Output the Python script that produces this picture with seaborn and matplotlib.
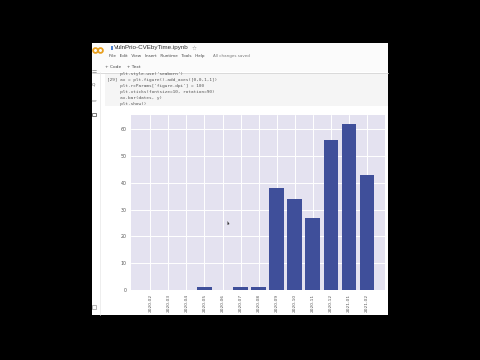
import matplotlib
matplotlib.use("Agg")
import matplotlib.pyplot as plt
from matplotlib.patches import Rectangle, Circle, Polygon
import pandas as pd
import seaborn as sns

months = ["2020-02", "2020-03", "2020-04", "2020-05", "2020-06", "2020-07", "2020-08",
          "2020-09", "2020-10", "2020-11", "2020-12", "2021-01", "2021-02"]
counts = [0, 0, 0, 1, 0, 1, 1, 38, 34, 27, 56, 62, 43]
yticks = [0, 10, 20, 30, 40, 50, 60]
code_lines = ["     plt.style.use('seaborn')",
              "[29] ax = plt.figure().add_axes([0,0,1,1])",
              "     plt.rcParams['figure.dpi'] = 100",
              "     plt.xticks(fontsize=10, rotation=90)",
              "     ax.bar(dates, y)",
              "     plt.show()"]

sns.set_theme(style="darkgrid")
plt.rcParams['font.family'] = ['DejaVu Sans']
fig = plt.figure(figsize=(4.8, 3.6), dpi=100, facecolor="black")

# page behind everything, in pixel coordinates
bg = fig.add_axes([0, 0, 1, 1], zorder=0)
bg.set_xlim(0, 480)
bg.set_ylim(360, 0)
bg.axis("off")
bg.add_patch(Rectangle((92, 43), 296, 272, fc="white", ec="none"))
bg.add_patch(Rectangle((92, 43), 296, 29, fc="#fbfbfb", ec="none"))
bg.add_patch(Rectangle((105, 73), 283, 33, fc="#f5f5f5", ec="none"))
bg.plot([92, 388], [72.5, 72.5], color="#d5d5d5", lw=0.6)
bg.plot([99.5, 99.5], [72, 315], color="#e8e8e8", lw=0.5)
bg.add_patch(Circle((95.5, 50.5), 2.4, fc="none", ec="#e8a020", lw=1.3))
bg.add_patch(Circle((100.5, 50.5), 2.4, fc="none", ec="#e8a020", lw=1.3))
bg.add_patch(Rectangle((110.5, 46), 2.5, 3.5, fc="#4a7fd0", ec="none"))
bg.text(114, 48, "VulnPrio-CVEbyTime.ipynb", fontsize=4.5, color="#333333", va="center", family="Liberation Sans")
bg.text(194, 48, "☆", fontsize=4, color="#888888", va="center", ha="center")
bg.text(109, 56.5, "File   Edit   View   Insert   Runtime   Tools   Help", fontsize=3.0, color="#444444", va="center")
bg.text(213, 56.5, "All changes saved", fontsize=2.9, color="#777777", va="center")
bg.text(105, 67, "+ Code    + Text", fontsize=3.2, color="#444444", va="center")
for i, line in enumerate(code_lines):
    bg.text(107, 73.5 + i * 6, line, fontsize=3.15, color="#555555", va="center", family="DejaVu Sans Mono")
# sidebar icons
bg.plot([92, 96], [70, 70], color="#666666", lw=0.4)
bg.plot([92, 96], [71.5, 71.5], color="#666666", lw=0.4)
bg.text(93.5, 84, "Q", fontsize=3.2, color="#555555", va="center", ha="center")
bg.text(94, 100, "<>", fontsize=3, color="#555555", va="center", ha="center")
bg.add_patch(Rectangle((92, 113), 3.5, 3, fc="none", ec="#444444", lw=0.5))
bg.add_patch(Rectangle((92, 305), 3.5, 3.5, fc="none", ec="#999999", lw=0.5))

df = pd.DataFrame({"month": months, "count": counts})
ax = fig.add_axes([131 / 480, 1 - 290 / 360, 254 / 480, 175 / 360], zorder=1)
sns.barplot(data=df, x="month", y="count", color="#3f4f9a", saturation=1, width=0.81,
            linewidth=0, ax=ax)
ax.set_xlim(-1.07, 13.0)
ax.set_ylim(0, 65.3)
ax.set_facecolor("#e4e2f0")
ax.set_xlabel("")
ax.set_ylabel("")
ax.set_yticks(yticks)
ax.tick_params(axis="x", labelsize=3.2, labelrotation=90, labelcolor="#555555", length=0, pad=3)
ax.tick_params(axis="y", labelsize=3.4, labelcolor="#555555", length=0, pad=3)
ax.grid(True, color="white", lw=0.7)
ax.set_axisbelow(True)
for side in ax.spines.values():
    side.set_visible(False)

# mouse pointer over the plot
ax.add_patch(Polygon([(227.5, 221), (227.5, 225), (229.5, 224)], closed=True, fc="#333333", ec="none",
                     transform=bg.transData, zorder=5))

fig.savefig("out.png", dpi=100, facecolor=fig.get_facecolor())
